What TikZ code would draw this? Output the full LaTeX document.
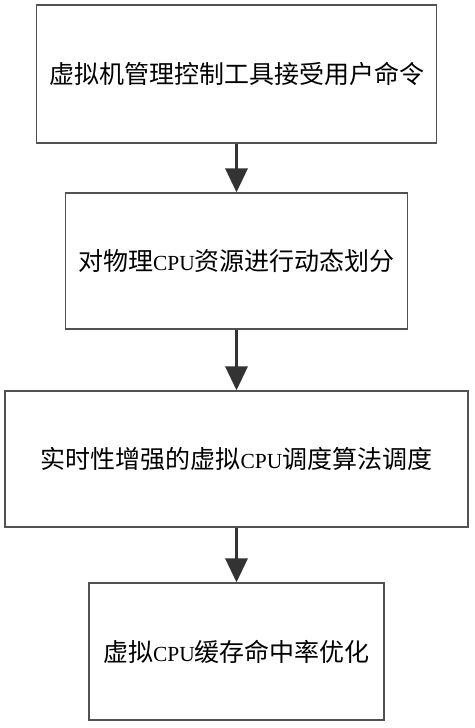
\documentclass[tikz,border=0pt]{standalone}
\usepackage{fontspec}
\newfontfamily\cjk{Noto Sans CJK SC}
\newfontfamily\latserif{Liberation Serif}
\usetikzlibrary{arrows.meta}
\newcommand\cpuword{{\latserif\fontsize{21.5}{24}\selectfont CPU}}
\tikzset{
  stepbox/.style={draw=black!68, line width=1.3pt, fill=white, inner sep=0pt,
    font=\cjk\fontsize{25}{28}\selectfont},
  flowarrow/.style={draw=black!80, line width=3.4pt,
    -{Triangle[width=22pt,length=24pt]}, shorten >=0pt}
}
\begin{document}
\begin{tikzpicture}[x=1pt,y=-1pt]
\useasboundingbox (0,0) rectangle (474,728);
\node[stepbox, minimum width=400pt, minimum height=138pt] (b1) at (236.5,74) {虚拟机管理控制工具接受用户命令};
\node[stepbox, minimum width=342pt, minimum height=136pt] (b2) at (236.5,261) {对物理\cpuword 资源进行动态划分};
\node[stepbox, minimum width=463pt, minimum height=136pt] (b3) at (236.5,459) {实时性增强的虚拟\cpuword 调度算法调度};
\node[stepbox, minimum width=295pt, minimum height=137pt] (b4) at (236.5,651.5) {虚拟\cpuword 缓存命中率优化};
\draw[flowarrow] (b1.south) -- (b2.north);
\draw[flowarrow] (b2.south) -- (b3.north);
\draw[flowarrow] (b3.south) -- (b4.north);
\end{tikzpicture}
\end{document}
